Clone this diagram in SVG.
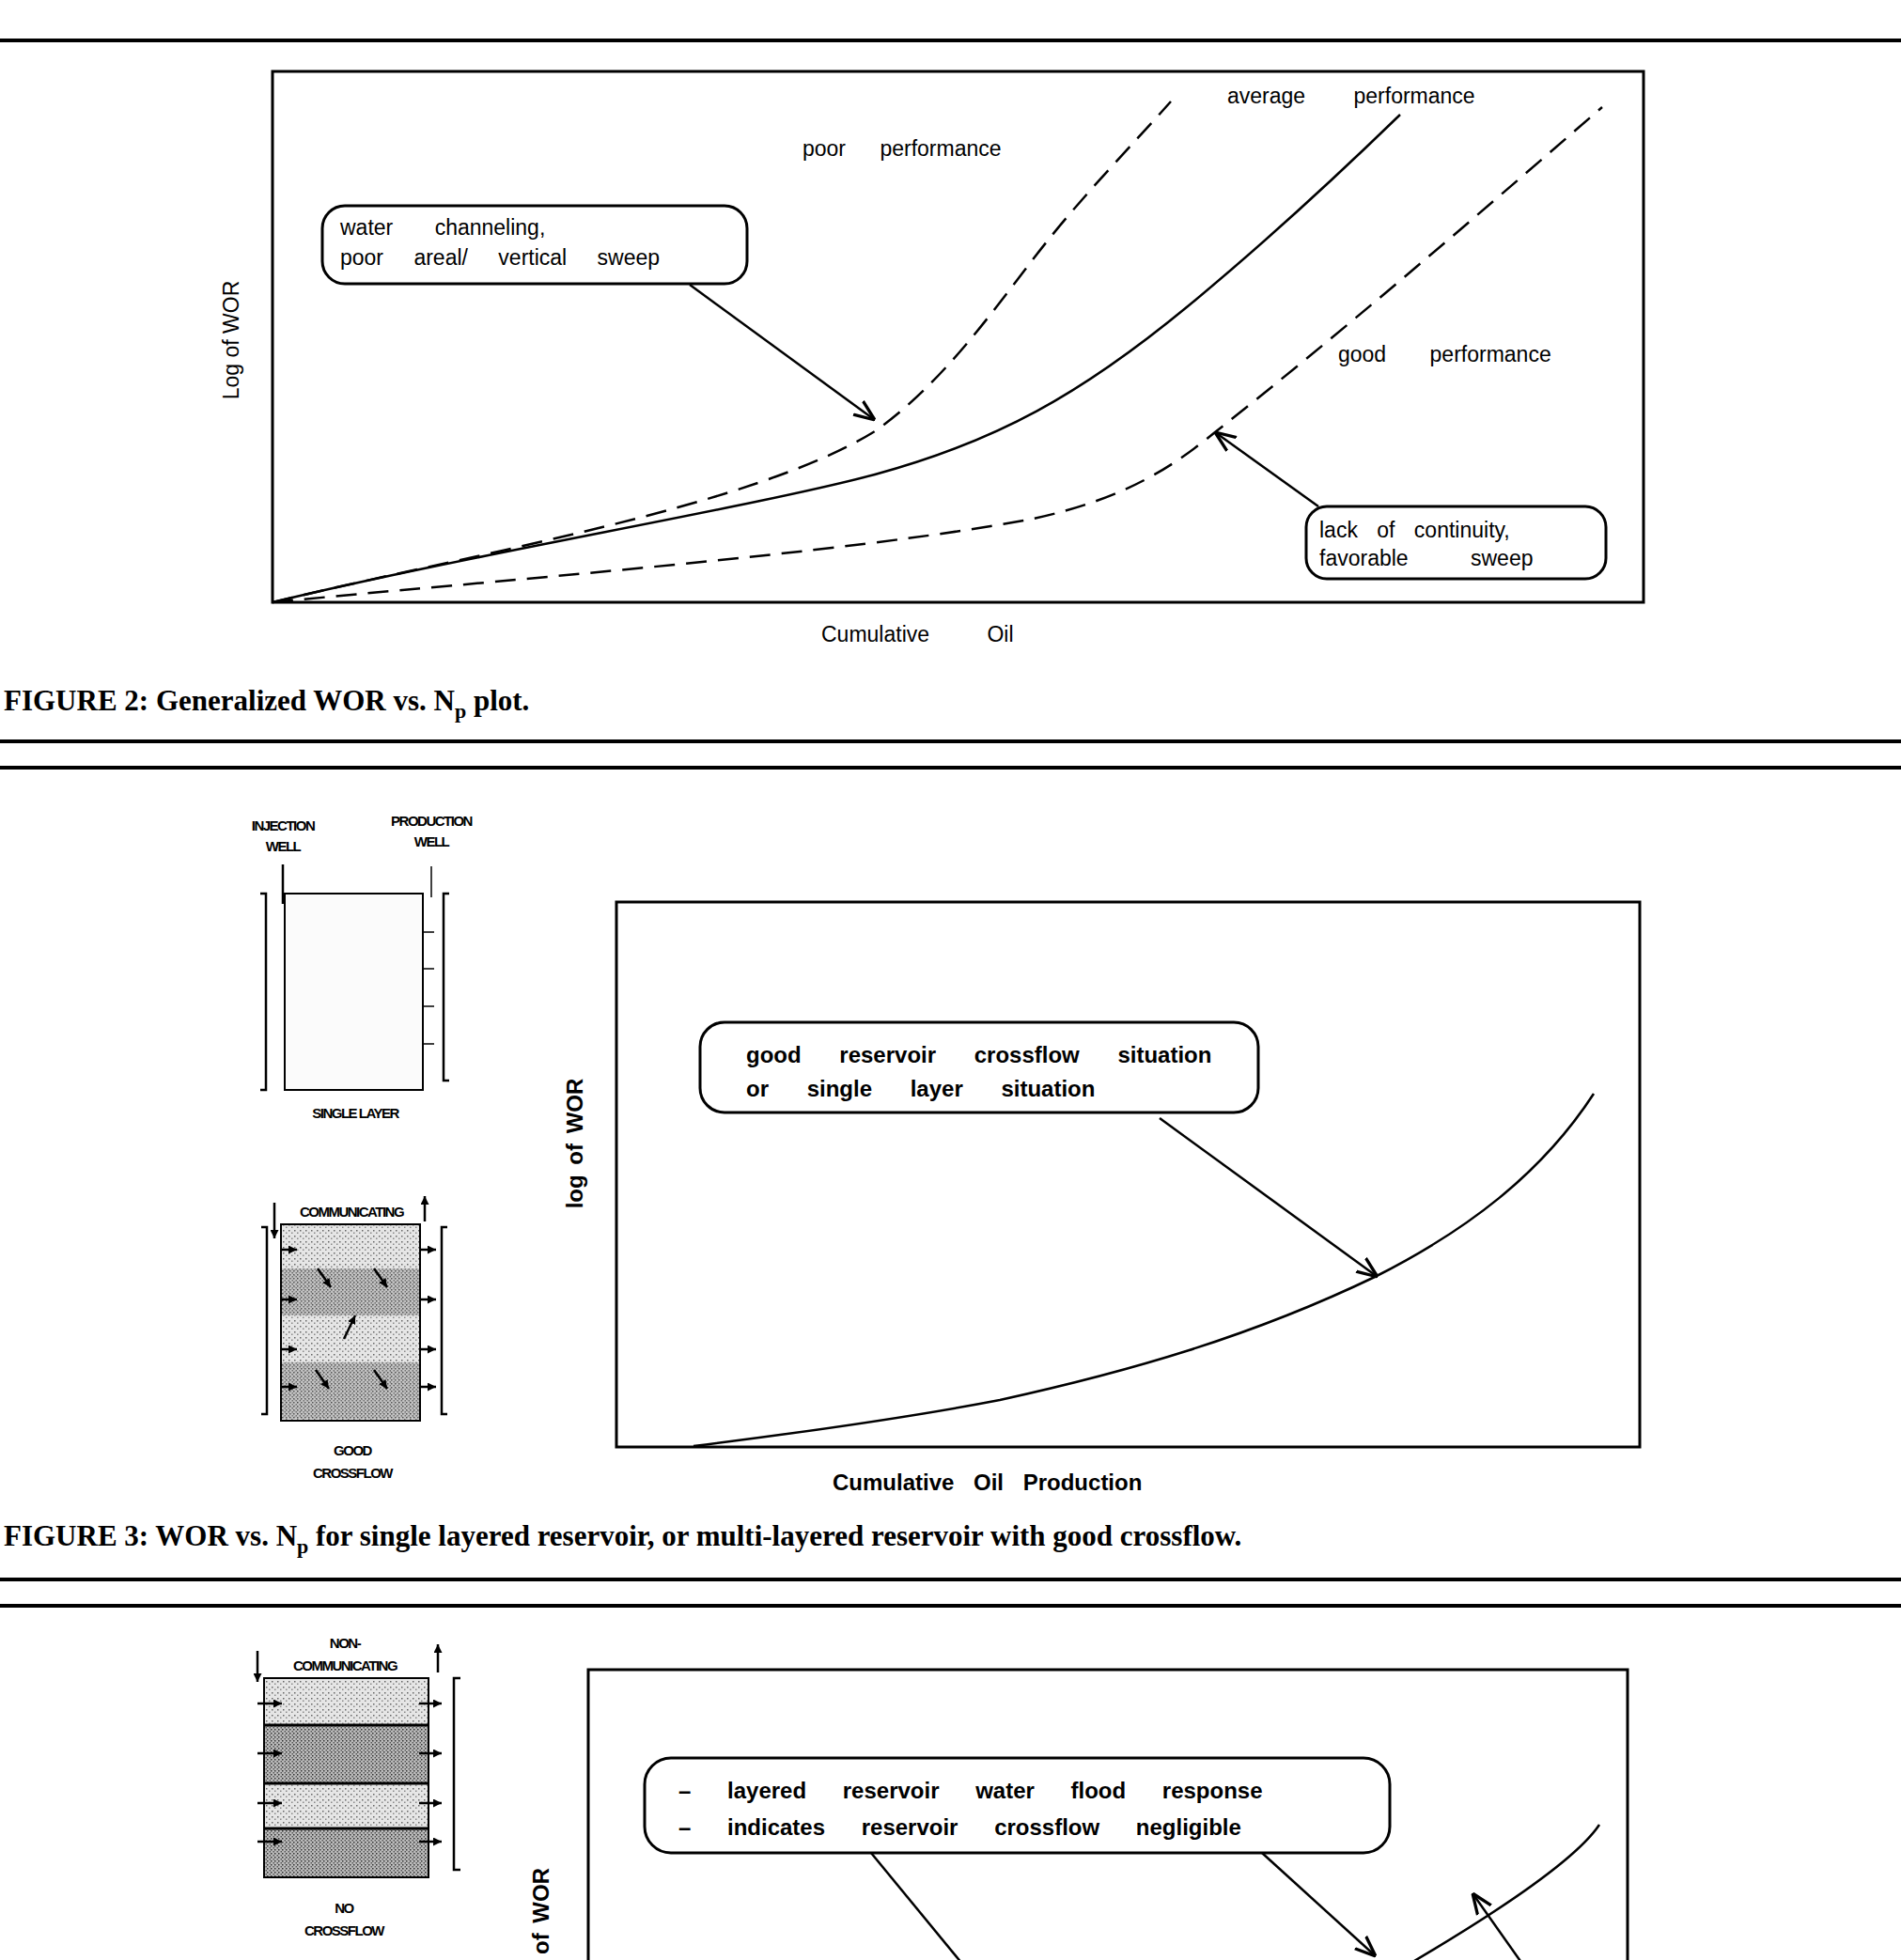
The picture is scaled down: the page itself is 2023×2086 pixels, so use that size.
<svg xmlns="http://www.w3.org/2000/svg" width="2023" height="2086" viewBox="0 0 2023 2086">
<style>
.t{font-family:"Liberation Sans",Arial,sans-serif;font-size:23px;fill:#000}
.tb{font-family:"Liberation Sans",Arial,sans-serif;font-size:24px;font-weight:bold;fill:#000}
.sm{font-family:"Liberation Sans",Arial,sans-serif;font-size:15px;font-weight:bold;fill:#000;letter-spacing:-1.5px}
.cap{font-family:"Liberation Serif","Times New Roman",serif;font-size:31px;font-weight:bold;fill:#000}
.box{fill:none;stroke:#000;stroke-width:3}
.ln{fill:none;stroke:#000;stroke-width:2.5}
.dash{fill:none;stroke:#000;stroke-width:2.5;stroke-dasharray:22 12}
.rule{stroke:#000;stroke-width:4}
</style>
<defs>
<marker id="ah2" viewBox="0 0 10 10" refX="10" refY="5" markerWidth="22" markerHeight="22" orient="auto" markerUnits="userSpaceOnUse"><path d="M0,1 L10,5 L0,9" fill="none" stroke="#000" stroke-width="1.5"/></marker>
<marker id="sa" viewBox="0 0 10 10" refX="10" refY="5" markerWidth="9" markerHeight="9" orient="auto" markerUnits="userSpaceOnUse"><path d="M0,0 L10,5 L0,10 Z" fill="#000"/></marker>
<pattern id="st" width="6" height="6" patternUnits="userSpaceOnUse"><rect width="6" height="6" fill="#e6e6e6"/><rect x="1" y="1" width="1.5" height="1.5" fill="#666"/><rect x="4" y="3.5" width="1.5" height="1.5" fill="#888"/></pattern>
<pattern id="dk" width="4" height="4" patternUnits="userSpaceOnUse"><rect width="4" height="4" fill="#bbb"/><rect x="0" y="0" width="1.5" height="1.5" fill="#333"/><rect x="2.5" y="2" width="1.5" height="1.5" fill="#555"/></pattern>
</defs>
<rect width="2023" height="2086" fill="#fff"/>

<g id="rules">
<line class="rule" x1="0" y1="43" x2="2023" y2="43"/>
<line class="rule" x1="0" y1="789" x2="2023" y2="789"/>
<line class="rule" x1="0" y1="817" x2="2023" y2="817"/>
<line class="rule" x1="0" y1="1681" x2="2023" y2="1681"/>
<line class="rule" x1="0" y1="1709" x2="2023" y2="1709"/>
</g>

<!-- FIGURE 2 -->
<g id="fig2-plot">
<rect class="box" x="290" y="76" width="1459" height="565"/>
<text class="t" transform="translate(254,362) rotate(-90)" text-anchor="middle">Log of WOR</text>
<text class="t" x="874" y="683" word-spacing="55">Cumulative Oil</text>
</g>
<g id="fig2-curves">
<path class="dash" d="M290,641 C500,590 800,540 931,459 C1000,410 1050,340 1100,275 C1150,210 1200,160 1246,108"/>
<path class="ln" d="M290,641 C500,590 800,540 931,505 C1060,470 1150,420 1264,326 C1350,255 1420,190 1490,122"/>
<path class="dash" d="M290,641 C500,620 900,590 1100,552 C1200,530 1250,495 1293,460 C1420,360 1560,240 1705,114"/>
</g>
<g id="fig2-labels">
<text class="t" x="1306" y="110" word-spacing="45">average performance</text>
<text class="t" x="854" y="166" word-spacing="30">poor performance</text>
<text class="t" x="1424" y="385" word-spacing="40">good performance</text>
</g>
<g id="fig2-callout1">
<rect class="box" x="343" y="219" width="452" height="83" rx="24"/>
<text class="t" x="362" y="250" word-spacing="38">water channeling,</text>
<text class="t" x="362" y="282" word-spacing="26">poor areal/ vertical sweep</text>
</g>
<g id="fig2-callout2">
<rect class="box" x="1390" y="539" width="319" height="77" rx="22"/>
<text class="t" x="1404" y="572" word-spacing="14">lack of continuity,</text>
<text class="t" x="1404" y="602" word-spacing="60">favorable sweep</text>
</g>
<g id="fig2-connectors">
<line class="ln" x1="734" y1="303" x2="931" y2="447" marker-end="url(#ah2)"/>
<line class="ln" x1="1403" y1="539" x2="1293" y2="460" marker-end="url(#ah2)"/>
</g>
<text class="cap" x="4" y="756">FIGURE 2: Generalized WOR vs. N<tspan font-size="22" dy="8">p</tspan><tspan dy="-8"> plot.</tspan></text>

<!-- FIGURE 3 -->
<g id="fig3-single">
<text class="sm" x="301" y="884" text-anchor="middle">INJECTION</text>
<text class="sm" x="301" y="906" text-anchor="middle">WELL</text>
<text class="sm" x="459" y="879" text-anchor="middle">PRODUCTION</text>
<text class="sm" x="459" y="901" text-anchor="middle">WELL</text>
<line class="ln" x1="301" y1="920" x2="301" y2="962"/>
<line x1="459" y1="922" x2="459" y2="955" stroke="#000" stroke-width="1.5"/>
<rect x="303" y="951" width="147" height="209" fill="#fbfbfb" stroke="#000" stroke-width="2"/>
<path class="ln" d="M277,951 h6 v209 h-6 M478,951 h-6 v199 h6"/>
<path stroke="#000" stroke-width="1.5" d="M450,992 h12 M450,1031 h12 M450,1071 h12 M450,1111 h12"/>
<text class="sm" x="378" y="1190" text-anchor="middle">SINGLE LAYER</text>
</g>
<g id="fig3-communicating">
<text class="sm" x="374" y="1295" text-anchor="middle">COMMUNICATING</text>
<rect x="299" y="1303" width="148" height="209" fill="url(#st)" stroke="#000" stroke-width="2"/>
<rect x="300" y="1350" width="146" height="50" fill="url(#dk)" opacity="0.8"/>
<rect x="300" y="1450" width="146" height="60" fill="url(#dk)" opacity="0.8"/>
<line class="ln" x1="292" y1="1280" x2="292" y2="1318" marker-end="url(#sa)"/>
<line class="ln" x1="452" y1="1300" x2="452" y2="1273" marker-end="url(#sa)"/>
<path class="ln" d="M278,1306 h6 v199 h-6 M476,1306 h-6 v199 h6"/>
<g stroke="#000" stroke-width="2.5">
<line x1="299" y1="1330" x2="316" y2="1330" marker-end="url(#sa)"/>
<line x1="299" y1="1383" x2="316" y2="1383" marker-end="url(#sa)"/>
<line x1="299" y1="1436" x2="316" y2="1436" marker-end="url(#sa)"/>
<line x1="299" y1="1476" x2="316" y2="1476" marker-end="url(#sa)"/>
<line x1="447" y1="1330" x2="464" y2="1330" marker-end="url(#sa)"/>
<line x1="447" y1="1383" x2="464" y2="1383" marker-end="url(#sa)"/>
<line x1="447" y1="1436" x2="464" y2="1436" marker-end="url(#sa)"/>
<line x1="447" y1="1476" x2="464" y2="1476" marker-end="url(#sa)"/>
<line x1="338" y1="1350" x2="352" y2="1370" marker-end="url(#sa)"/>
<line x1="398" y1="1350" x2="412" y2="1370" marker-end="url(#sa)"/>
<line x1="366" y1="1425" x2="378" y2="1400" marker-end="url(#sa)"/>
<line x1="336" y1="1458" x2="350" y2="1478" marker-end="url(#sa)"/>
<line x1="398" y1="1458" x2="412" y2="1478" marker-end="url(#sa)"/>
</g>
<text class="sm" x="375" y="1549" text-anchor="middle">GOOD</text>
<text class="sm" x="375" y="1573" text-anchor="middle">CROSSFLOW</text>
</g>
<g id="fig3-plot">
<rect class="box" x="656" y="960" width="1089" height="580"/>
<text class="tb" transform="translate(620,1217) rotate(-90)" text-anchor="middle" word-spacing="4">log of WOR</text>
<text class="tb" x="886" y="1586" word-spacing="14">Cumulative Oil Production</text>
<path class="ln" d="M738,1539 C850,1525 960,1510 1064,1490 C1200,1460 1330,1423 1463,1359 C1560,1310 1640,1250 1696,1164"/>
</g>
<g id="fig3-callout">
<rect class="box" x="745" y="1088" width="594" height="96" rx="26"/>
<text class="tb" x="794" y="1131" word-spacing="34">good reservoir crossflow situation</text>
<text class="tb" x="794" y="1167" word-spacing="34">or single layer situation</text>
</g>
<g id="fig3-connectors">
<line class="ln" x1="1234" y1="1190" x2="1466" y2="1359" marker-end="url(#ah2)"/>
</g>
<text class="cap" x="4" y="1645">FIGURE 3: WOR vs. N<tspan font-size="22" dy="8">p</tspan><tspan dy="-8"> for single layered reservoir, or multi-layered reservoir with good crossflow.</tspan></text>

<!-- FIGURE 4 -->
<g id="fig4-noncomm">
<text class="sm" x="367" y="1754" text-anchor="middle">NON-</text>
<text class="sm" x="367" y="1778" text-anchor="middle">COMMUNICATING</text>
<rect x="281" y="1786" width="175" height="50" fill="url(#st)"/>
<rect x="281" y="1836" width="175" height="62" fill="url(#dk)"/>
<rect x="281" y="1898" width="175" height="48" fill="url(#st)"/>
<rect x="281" y="1946" width="175" height="52" fill="url(#dk)"/>
<rect x="281" y="1786" width="175" height="212" fill="none" stroke="#000" stroke-width="2"/>
<path stroke="#000" stroke-width="3" d="M281,1836 h175 M281,1898 h175 M281,1946 h175"/>
<line class="ln" x1="274" y1="1757" x2="274" y2="1790" marker-end="url(#sa)"/>
<line class="ln" x1="466" y1="1780" x2="466" y2="1750" marker-end="url(#sa)"/>
<path class="ln" d="M490,1786 h-7 v204 h7"/>
<g stroke="#000" stroke-width="2.5">
<line x1="274" y1="1813" x2="300" y2="1813" marker-end="url(#sa)"/>
<line x1="274" y1="1866" x2="300" y2="1866" marker-end="url(#sa)"/>
<line x1="274" y1="1919" x2="300" y2="1919" marker-end="url(#sa)"/>
<line x1="274" y1="1960" x2="300" y2="1960" marker-end="url(#sa)"/>
<line x1="446" y1="1813" x2="470" y2="1813" marker-end="url(#sa)"/>
<line x1="446" y1="1866" x2="470" y2="1866" marker-end="url(#sa)"/>
<line x1="446" y1="1919" x2="470" y2="1919" marker-end="url(#sa)"/>
<line x1="446" y1="1960" x2="470" y2="1960" marker-end="url(#sa)"/>
</g>
<text class="sm" x="366" y="2036" text-anchor="middle">NO</text>
<text class="sm" x="366" y="2060" text-anchor="middle">CROSSFLOW</text>
</g>
<g id="fig4-plot">
<path class="box" d="M626,2090 V1777 H1732 V2090"/>
<text class="tb" transform="translate(584,1988) rotate(-90)" text-anchor="end" word-spacing="4">log of WOR</text>
<path class="ln" d="M1500,2090 Q1670,1990 1702,1942"/>
</g>
<g id="fig4-callout">
<rect class="box" x="686" y="1871" width="793" height="101" rx="28"/>
<text class="tb" x="722" y="1914" font-size="28" word-spacing="32">–  layered reservoir water flood response</text>
<text class="tb" x="722" y="1953" font-size="28" word-spacing="32">–  indicates reservoir crossflow negligible</text>
</g>
<g id="fig4-connectors">
<line class="ln" x1="927" y1="1972" x2="1024" y2="2090"/>
<line class="ln" x1="1343" y1="1972" x2="1464" y2="2082" marker-end="url(#ah2)"/>
<line class="ln" x1="1620" y1="2090" x2="1567" y2="2015" marker-end="url(#ah2)"/>
</g>
</svg>
